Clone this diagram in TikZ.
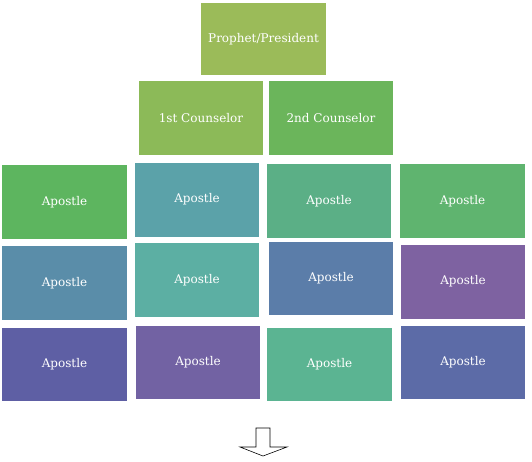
\documentclass[tikz,border=0pt]{standalone}
\usepackage{fontspec}
\setmainfont{DejaVu Serif}
\begin{document}
\begin{tikzpicture}[x=1pt,y=-1pt,
  blk/.style={draw=none,inner sep=0pt,text=white,font=\fontsize{12}{14}\selectfont}]
\useasboundingbox (0,0) rectangle (532,461);
\definecolor{cP}{HTML}{9BBB59}
\definecolor{cA}{HTML}{8CBA58}
\definecolor{cB}{HTML}{6BB55B}
\definecolor{r1a}{HTML}{5DB55F}
\definecolor{r1b}{HTML}{5BA2A9}
\definecolor{r1c}{HTML}{5BAF86}
\definecolor{r1d}{HTML}{5FB46F}
\definecolor{r2a}{HTML}{5A8DA9}
\definecolor{r2b}{HTML}{5CAFA3}
\definecolor{r2c}{HTML}{5B7DA9}
\definecolor{r2d}{HTML}{7E62A1}
\definecolor{r3a}{HTML}{5E5FA4}
\definecolor{r3b}{HTML}{7262A3}
\definecolor{r3c}{HTML}{5BB492}
\definecolor{r3d}{HTML}{5C6BA7}
% boxes
\fill[cP] (201,3) rectangle (326,75);
\node[blk] (pp) at (263.5,39) {Prophet/President};
\fill[cA] (139,81) rectangle (263,155);
\node[blk] (c1) at (201,118) {1st Counselor};
\fill[cB] (269,81) rectangle (393,155);
\node[blk] (c2) at (331,118) {2nd Counselor};
% row 1
\fill[r1a] (2,165) rectangle (127,239);   \node[blk] (a11) at (64.5,202) {Apostle};
\fill[r1b] (135,163) rectangle (259,237); \node[blk] (a12) at (197,199) {Apostle};
\fill[r1c] (267,164) rectangle (391,238); \node[blk] (a13) at (329,201) {Apostle};
\fill[r1d] (400,164) rectangle (525,238); \node[blk] (a14) at (462.5,201) {Apostle};
% row 2
\fill[r2a] (2,246) rectangle (127,320);   \node[blk] (a21) at (64.5,283) {Apostle};
\fill[r2b] (135,243) rectangle (259,317); \node[blk] (a22) at (197,280) {Apostle};
\fill[r2c] (269,242) rectangle (393,315); \node[blk] (a23) at (331,278) {Apostle};
\fill[r2d] (401,245) rectangle (525,319); \node[blk] (a24) at (463,281) {Apostle};
% row 3
\fill[r3a] (2,328) rectangle (127,401);   \node[blk] (a31) at (64.5,364) {Apostle};
\fill[r3b] (136,326) rectangle (260,399); \node[blk] (a32) at (198,362) {Apostle};
\fill[r3c] (267,328) rectangle (392,401); \node[blk] (a33) at (329.5,364) {Apostle};
\fill[r3d] (401,326) rectangle (525,399); \node[blk] (a34) at (463,362) {Apostle};
% down arrow
\draw[black,line width=0.6pt,fill=white,line join=miter]
  (256,428) -- (270,428) -- (270,447) -- (287,447) -- (263,456)
  -- (240,447) -- (256,447) -- cycle;
\end{tikzpicture}
\end{document}
